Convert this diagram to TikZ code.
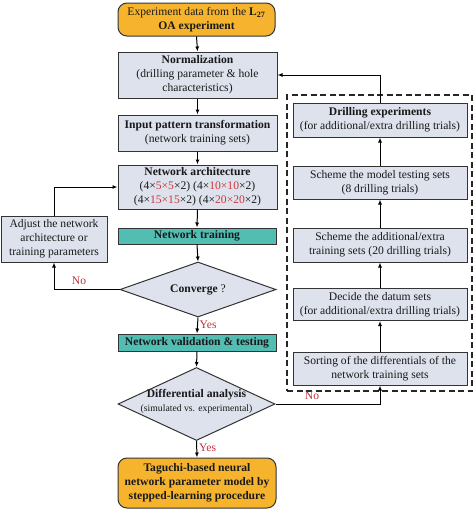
\documentclass[tikz,border=0pt]{standalone}
\usepackage{fontspec}
\setmainfont{Liberation Serif}
\usetikzlibrary{arrows.meta,shapes.geometric,calc}
\definecolor{boxfill}{HTML}{DDE2EC}
\definecolor{boxline}{HTML}{333333}
\definecolor{tealfill}{HTML}{52BDB2}
\definecolor{orangefill}{HTML}{F6B42E}
\definecolor{redtxt}{HTML}{D0343C}
\definecolor{lblred}{HTML}{C0303A}
\newcommand{\rd}[1]{\textcolor{redtxt}{#1}}
\begin{document}
\begin{tikzpicture}[x=1pt,y=-1pt,
  every node/.style={font=\fontsize{11.6}{14}\selectfont, text=black!90},
  gbox/.style={draw=boxline, line width=1pt, fill=boxfill, align=center, inner sep=0.5pt},
  tbox/.style={draw=boxline, line width=1pt, fill=tealfill, align=center, inner sep=0.5pt, font=\fontsize{11.6}{14}\selectfont\bfseries},
  obox/.style={draw=boxline, line width=1pt, fill=orangefill, align=center, inner sep=0.5pt, rounded corners=9pt},
  dia/.style={draw=boxline, line width=1pt, fill=boxfill, diamond, inner sep=0pt},
  conn/.style={line width=1pt, draw=black, -{Latex[length=5pt,width=4pt]}},
  lbl/.style={text=lblred, font=\fontsize{11.6}{13}\selectfont, inner sep=1pt}
]
\useasboundingbox (0,0) rectangle (474,509);

% main column
\node[obox, minimum width=157pt, minimum height=33pt] (top) at (196.5,19.5)
  {Experiment data from the \textbf{L\textsubscript{27}}\\\textbf{OA experiment}};
\node[gbox, minimum width=159pt, minimum height=46pt] (norm) at (197.5,75)
  {\textbf{Normalization}\\(drilling parameter \& hole\\characteristics)};
\node[gbox, minimum width=159pt, minimum height=36pt] (input) at (197.5,133)
  {\textbf{Input pattern transformation}\\(network training sets)};
\node[gbox, minimum width=159pt, minimum height=44pt] (arch) at (197.5,187)
  {\textbf{Network architecture}\\(4×\rd{5×5}×2) (4×\rd{10×10}×2)\\(4×\rd{15×15}×2) (4×\rd{20×20}×2)};
\node[tbox, minimum width=158pt, minimum height=16pt] (train) at (197,236) {Network training};
\node[dia, minimum width=156pt, minimum height=55pt] (conv) at (198,289.5) {};
\node (convtxt) at (conv.center) {\textbf{Converge} ?};
\node[tbox, minimum width=158pt, minimum height=17pt] (valid) at (197,342.5) {Network validation \& testing};
\node[dia, minimum width=157pt, minimum height=73pt] (diff) at (196.5,404) {};
\node[align=center] (difftxt) at (196.5,401)
  {\textbf{Differential analysis}\\{\fontsize{9.7}{12}\selectfont(simulated vs. experimental)}};
\node[obox, minimum width=158pt, minimum height=50pt, font=\fontsize{11.6}{14}\selectfont\bfseries] (bottom) at (197,483)
  {Taguchi-based neural\\network parameter model by\\stepped-learning procedure};

% left box
\node[gbox, minimum width=106pt, minimum height=46pt] (adjust) at (54,239)
  {Adjust the network\\architecture or\\training parameters};

% right column
\node[draw=black!85, line width=1.4pt, dash pattern=on 6pt off 3.5pt, minimum width=185pt, minimum height=296pt, inner sep=0pt] (dash) at (379.5,243) {};
\node[gbox, minimum width=174pt, minimum height=34pt] (drill) at (380,120)
  {\textbf{Drilling experiments}\\(for additional/extra drilling trials)};
\node[gbox, minimum width=174pt, minimum height=33pt] (model) at (380,182.5)
  {Scheme the model testing sets\\(8 drilling trials)};
\node[gbox, minimum width=174pt, minimum height=34pt] (addl) at (380,245)
  {Scheme the additional/extra\\training sets (20 drilling trials)};
\node[gbox, minimum width=174pt, minimum height=32pt] (datum) at (380,304.5)
  {Decide the datum sets\\(for additional/extra drilling trials)};
\node[gbox, minimum width=174pt, minimum height=33pt] (sort) at (380,368.5)
  {Sorting of the differentials of the\\network training sets};

% connectors main
\draw[conn] (top.south) -- (norm.north);
\draw[conn] (norm.south) -- (input.north);
\draw[conn] (input.south) -- (arch.north);
\draw[conn] (arch.south) -- (train.north);
\draw[conn] (train.south) -- (conv.north);
\draw[conn] (conv.south) -- (valid.north);
\draw[conn] (valid.south) -- (diff.north);
\draw[conn] (diff.south) -- (bottom.north);
\node[lbl, anchor=west] (yes1) at (198.5,325) {Yes};
\node[lbl, anchor=west] (yes2) at (198,448) {Yes};

% loop back
\draw[conn] (conv.west) -| (adjust.south);
\node[lbl] (no1) at (79,281) {No};
\draw[conn] (adjust.north) |- (arch.west);

% right loop
\draw[conn] (diff.east) -| (sort.south);
\node[lbl] (no2) at (312,396) {No};
\draw[conn] (sort.north) -- (datum.south);
\draw[conn] (datum.north) -- (addl.south);
\draw[conn] (addl.north) -- (model.south);
\draw[conn] (model.north) -- (drill.south);
\draw[conn] (drill.north) |- (norm.east);
\end{tikzpicture}
\end{document}
